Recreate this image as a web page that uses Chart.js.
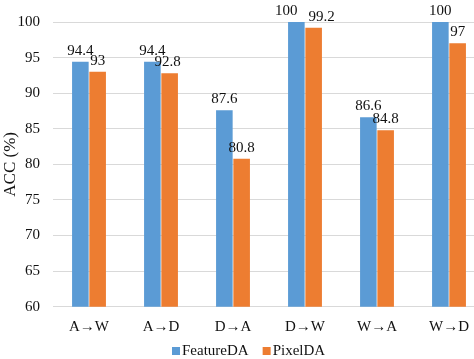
<!DOCTYPE html>
<html>
<head>
<meta charset="utf-8">
<script src="https://cdn.jsdelivr.net/npm/chart.js@4/dist/chart.umd.min.js"></script>
<style>
html,body{margin:0;padding:0;background:#fff;overflow:hidden;}
#wrap{width:474px;height:359px;overflow:hidden;position:relative;}
#box{width:486px;height:359px;position:absolute;left:0;top:0;}
</style>
</head>
<body>
<div id="wrap"><div id="box"><canvas id="c"></canvas></div></div>
<script>
const categories = ['A\u2192W', 'A\u2192D', 'D\u2192A', 'D\u2192W', 'W\u2192A', 'W\u2192D'];
const featureDA = [94.4, 94.4, 87.6, 100, 86.6, 100];
const pixelDA = [93, 92.8, 80.8, 99.2, 84.8, 97];
const yTicks = [60, 65, 70, 75, 80, 85, 90, 95, 100];
const seriesNames = ['FeatureDA', 'PixelDA'];

const SERIF = "'Liberation Serif','Times New Roman','DejaVu Serif',serif";
const BLUE = '#5B9BD5';
const ORANGE = '#ED7D31';

// horizontal nudges for crowded labels (style only)
const labelNudge = [[0,0,0,-10,0,0],[0,-2,0,8,0,0]];

const labelPlugin = {
  id: 'valueLabels',
  afterDatasetsDraw(chart) {
    const ctx = chart.ctx;
    ctx.save();
    ctx.font = '15px ' + SERIF;
    ctx.fillStyle = '#111';
    ctx.textAlign = 'center';
    ctx.textBaseline = 'alphabetic';
    chart.data.datasets.forEach((ds, di) => {
      const meta = chart.getDatasetMeta(di);
      meta.data.forEach((bar, i) => {
        const y = Math.max(bar.y - 7, 12);
        ctx.fillText(String(ds.data[i]), bar.x + labelNudge[di][i], y);
      });
    });
    ctx.restore();
  }
};

const legendPlugin = {
  id: 'customLegend',
  afterDraw(chart) {
    const ctx = chart.ctx;
    ctx.save();
    ctx.font = '15px ' + SERIF;
    ctx.textBaseline = 'middle';
    ctx.textAlign = 'left';
    let x = 172;
    const y = 351;
    chart.data.datasets.forEach((ds, di) => {
      ctx.fillStyle = ds.backgroundColor;
      ctx.fillRect(x, y - 4, 8, 8);
      x += 10;
      ctx.fillStyle = '#111';
      ctx.fillText(ds.label, x, y);
      x += ctx.measureText(ds.label).width + 14;
    });
    ctx.restore();
  }
};

new Chart(document.getElementById('c'), {
  type: 'bar',
  data: {
    labels: categories,
    datasets: [
      { label: seriesNames[0], data: featureDA, backgroundColor: BLUE },
      { label: seriesNames[1], data: pixelDA, backgroundColor: ORANGE }
    ]
  },
  options: {
    responsive: true,
    maintainAspectRatio: false,
    animation: false,
    layout: { padding: { top: 11, left: 0, right: 1, bottom: 0 } },
    datasets: { bar: { categoryPercentage: 0.48, barPercentage: 0.96 } },
    plugins: { legend: { display: false }, tooltip: { enabled: false } },
    scales: {
      x: {
        grid: { display: false, drawTicks: false },
        border: { display: true, color: '#d9d9d9', width: 1 },
        ticks: { font: { family: SERIF, size: 15 }, color: '#111', padding: 11, maxRotation: 0 },
        afterFit(s) { s.height = 52.3; }
      },
      y: {
        min: 60, max: 100,
        afterBuildTicks(s) { s.ticks = yTicks.map(v => ({ value: v })); },
        grid: { color: '#d9d9d9', drawTicks: false },
        border: { display: false },
        ticks: { font: { family: SERIF, size: 15 }, color: '#111', padding: 13 },
        title: { display: true, text: 'ACC (%)', font: { family: SERIF, size: 17 }, color: '#111', padding: { top: 0, bottom: 0, y: 0 } },
        afterFit(s) { s.width = 53; }
      }
    }
  },
  plugins: [labelPlugin, legendPlugin]
});
</script>
</body>
</html>
